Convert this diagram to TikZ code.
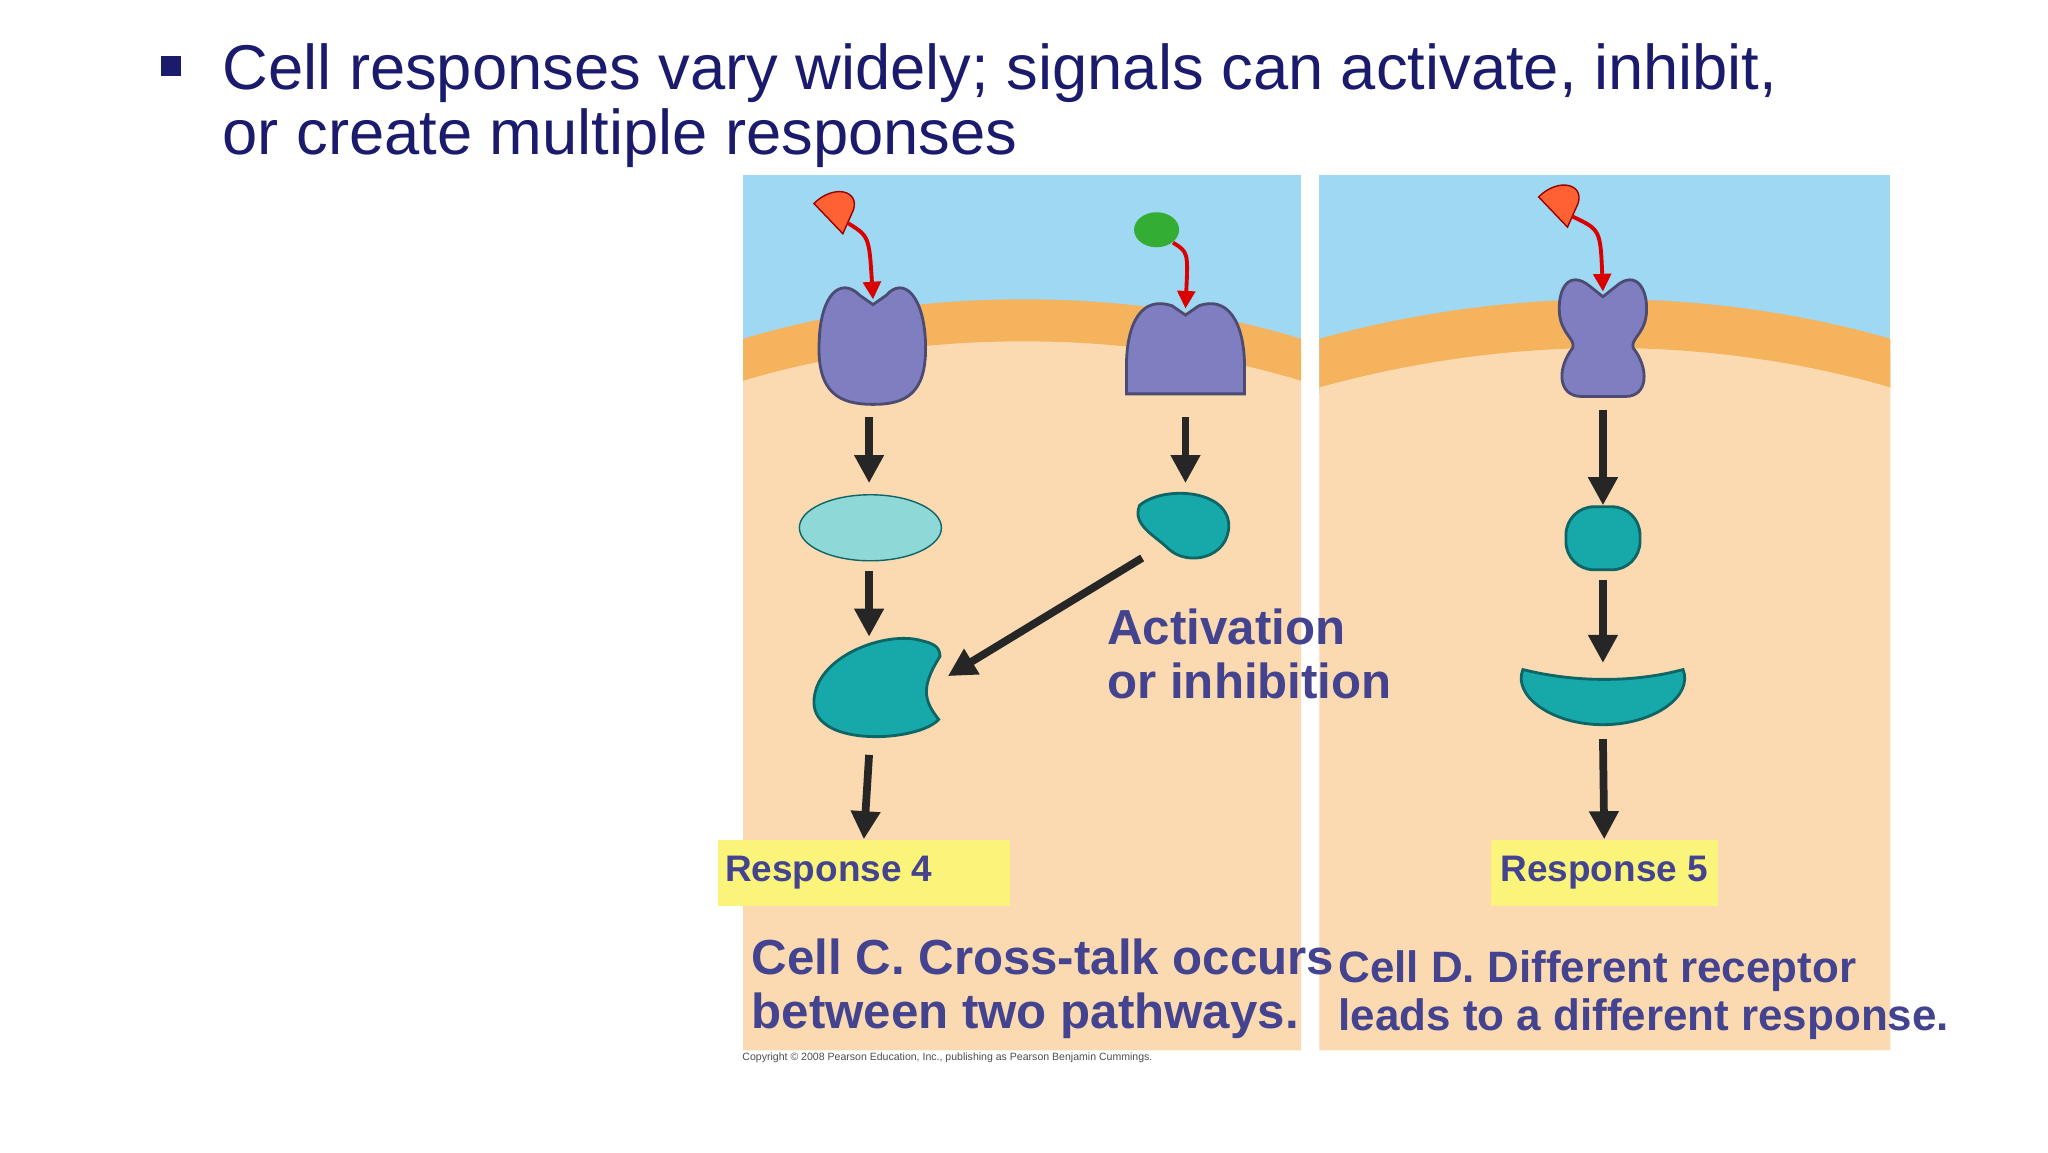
\documentclass[tikz,border=0pt]{standalone}
\usepackage{fontspec}
\setmainfont{Liberation Sans}
\usetikzlibrary{arrows.meta,positioning,shapes.geometric}
\definecolor{navy}{HTML}{1B1B6E}
\definecolor{slate}{HTML}{43438F}
\definecolor{sky}{HTML}{9ED8F2}
\definecolor{cyto}{HTML}{FBDAB2}
\definecolor{memb}{HTML}{F5B35E}
\definecolor{recep}{HTML}{7E7EC0}
\definecolor{teal}{HTML}{17A9A9}
\definecolor{lteal}{HTML}{8FD8D8}
\definecolor{resp}{HTML}{FBF47A}
\tikzset{
  flow/.style={-{Triangle[length=8pt,width=8pt]},line width=2.2pt,black!85},
  bind/.style={-{Triangle[length=5pt,width=5pt]},line width=1.1pt,red!85!black},
  lbl/.style={text=slate,font=\bfseries,align=left,inner sep=0pt,anchor=west},
  rbox/.style={fill=resp,text=slate,font=\bfseries\fontsize{10.5}{12}\selectfont,minimum width=2.27cm,minimum height=0.66cm,inner sep=2pt},
  prot/.style={fill=recep,draw=recep!60!black,line width=0.8pt},
  relay/.style={fill=teal,draw=teal!60!black,line width=0.8pt}
}
\begin{document}
\begin{tikzpicture}[x=0.013128cm,y=-0.013128cm]
\useasboundingbox (0,0) rectangle (1560,877.5);
% heading
\fill[navy] (123,43) rectangle (138,58);
\node[anchor=north west,text=navy,inner sep=0pt,align=left,font=\fontsize{18}{18.5}\selectfont] (title) at (169,33)
  {Cell responses vary widely; signals can activate, inhibit,\\or create multiple responses};
% cell C
\fill[sky] (566,133) rectangle (991,300);
\fill[cyto] (566,270) .. controls (700,225) and (860,225) .. (991,270) -- (991,800) -- (566,800) -- cycle;
\fill[memb] (566,258) .. controls (700,218) and (860,218) .. (991,258) -- (991,290) .. controls (860,250) and (700,250) .. (566,290) -- cycle;
% cell D
\fill[sky] (1005,133) rectangle (1440,300);
\fill[cyto] (1005,270) .. controls (1150,225) and (1300,225) .. (1440,270) -- (1440,800) -- (1005,800) -- cycle;
\fill[memb] (1005,258) .. controls (1150,218) and (1300,218) .. (1440,258) -- (1440,295) .. controls (1300,255) and (1150,255) .. (1005,295) -- cycle;
% receptors
\filldraw[prot] (655,225) .. controls (640,210) and (625,225) .. (624,260) .. controls (622,300) and (640,308) .. (665,308)
  .. controls (690,308) and (706,300) .. (705,262) .. controls (704,225) and (688,210) .. (675,225) -- (665,232) -- cycle;
\coordinate (rc1) at (665,228);
\filldraw[prot] (893,233) .. controls (870,225) and (858,245) .. (858,280) -- (858,300) -- (948,300) -- (948,280)
  .. controls (948,245) and (935,225) .. (913,233) -- (903,240) -- cycle;
\coordinate (rc2) at (903,235);
\filldraw[prot] (1211,218) .. controls (1195,205) and (1186,220) .. (1188,240) .. controls (1190,255) and (1200,258) .. (1198,265)
  .. controls (1186,280) and (1186,302) .. (1205,302) -- (1238,302) .. controls (1256,302) and (1256,280) .. (1244,265)
  .. controls (1242,258) and (1252,255) .. (1254,240) .. controls (1256,220) and (1246,205) .. (1231,218) -- (1221,226) -- cycle;
\coordinate (rd1) at (1221,222);
% ligands
\filldraw[fill=red!55!orange!80,draw=red!60!black] (620,155) .. controls (635,140) and (655,145) .. (650,160) -- (642,178) -- cycle;
\node[ellipse,fill=green!60!black!80,minimum width=0.45cm,minimum height=0.35cm,inner sep=0pt] (lg2) at (881,175) {};
\filldraw[fill=red!55!orange!80,draw=red!60!black] (1172,150) .. controls (1187,135) and (1207,140) .. (1202,155) -- (1194,173) -- cycle;
\coordinate (lg1) at (646,170);
\coordinate (lg3) at (1198,165);
\draw[bind] (lg1) .. controls (662,180) .. (rc1);
\draw[bind] (lg2.south east) .. controls (905,192) .. (rc2);
\draw[bind] (lg3) .. controls (1219,175) .. (rd1);
% relay proteins
\node[ellipse,fill=lteal,draw=teal!60!black,minimum width=1.42cm,minimum height=0.66cm] (rl1) at (663,402) {};
\filldraw[relay] (868,385) .. controls (885,370) and (935,372) .. (936,400) .. controls (936,425) and (905,432) .. (890,418) .. controls (880,408) and (862,400) .. (868,385) -- cycle;
\coordinate (rl2) at (900,400);
\coordinate (rl2e) at (870,425);
\filldraw[relay] (702,488) .. controls (675,480) and (620,500) .. (620,535) .. controls (620,570) and (700,565) .. (715,548)
  .. controls (705,535) and (700,525) .. (716,500) .. controls (716,492) and (710,490) .. (702,488) -- cycle;
\coordinate (rl3) at (668,525);
\coordinate (rl3e) at (722,515);
\node[rectangle,rounded corners=8pt,relay,minimum width=0.74cm,minimum height=0.63cm] (rd2) at (1221,410) {};
\filldraw[relay] (1160,510) .. controls (1200,520) and (1245,520) .. (1282,510) .. controls (1290,530) and (1260,552) .. (1221,552)
  .. controls (1182,552) and (1152,530) .. (1160,510) -- cycle;
\coordinate (rd3) at (1221,530);
% responses
\node[rbox] (r4) at (658,665) {Response 4\hspace*{7mm}};
\node[rbox] (r5) at (1222,665) {Response 5};
% arrows
\draw[flow] (662,318) -- (662,368);
\draw[flow] (903,318) -- (903,368);
\draw[flow] (662,435) -- (662,485);
\draw[flow] (662,575) -- (r4.north);
\draw[flow] (rl2e) -- (rl3e);
\draw[flow] (1221,312) -- (rd2.north);
\draw[flow] (1221,442) -- (1221,505);
\draw[flow] (1221,563) -- (r5.north);
% labels
\node[lbl,font=\bfseries\fontsize{14}{15.5}\selectfont] (act) at (843,498) {Activation\\or inhibition};
\node[lbl,font=\bfseries\fontsize{14}{15.5}\selectfont] (capc) at (572,753) {Cell C. Cross-talk occurs\\between two pathways.};
\node[lbl,font=\bfseries\fontsize{12.5}{13.5}\selectfont] (capd) at (1019,758) {Cell D. Different receptor\\leads to a different response.};
\node[anchor=west,inner sep=0pt,font=\fontsize{3}{4}\selectfont,text=black!70] (copy) at (565,806)
  {Copyright © 2008 Pearson Education, Inc., publishing as Pearson Benjamin Cummings.};
\end{tikzpicture}
\end{document}
